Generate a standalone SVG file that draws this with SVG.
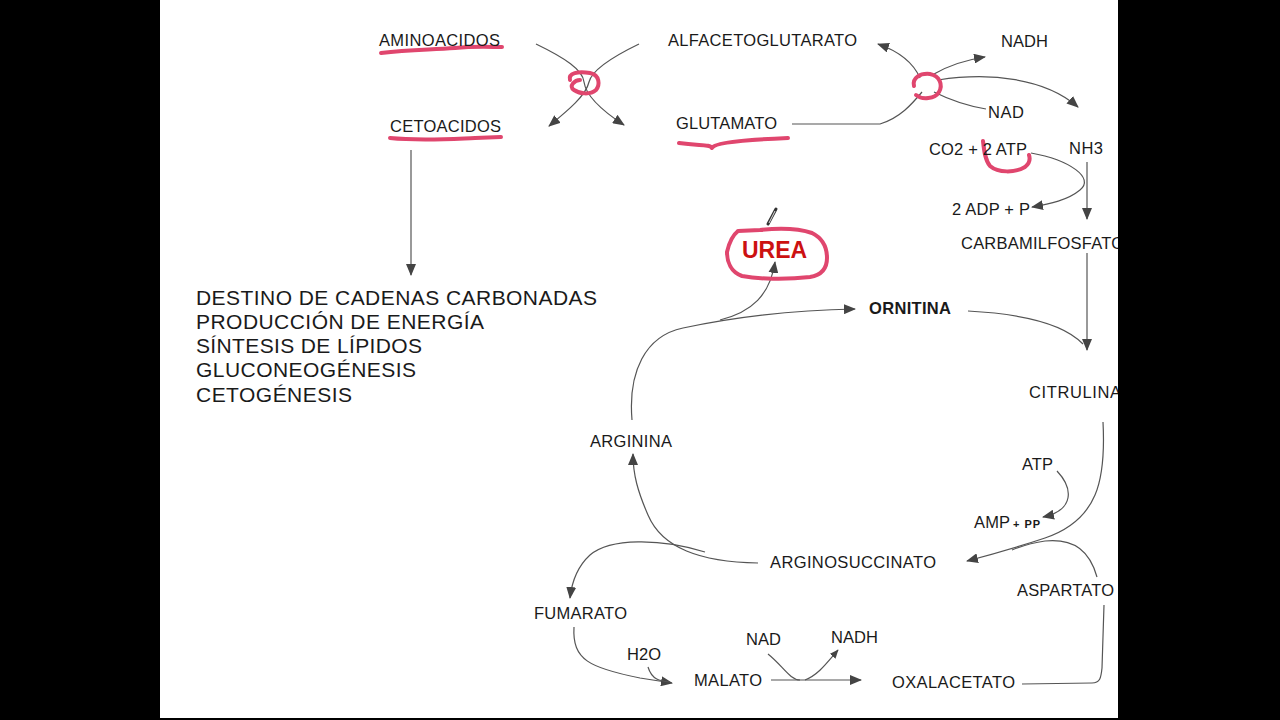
<svg xmlns="http://www.w3.org/2000/svg" width="1280" height="720" viewBox="0 0 1280 720">
<defs>
<marker id="ah" viewBox="0 0 12 10" refX="11" refY="5" markerWidth="12" markerHeight="10" markerUnits="userSpaceOnUse" orient="auto">
<path d="M0,0 L12,5 L0,10 Z" fill="#444"/>
</marker>
<marker id="ahs" viewBox="0 0 12 10" refX="11" refY="5" markerWidth="9" markerHeight="8" markerUnits="userSpaceOnUse" orient="auto">
<path d="M0,0 L12,5 L0,10 Z" fill="#444"/>
</marker>
<style>
text{font-family:"Liberation Sans",Arial,sans-serif;fill:#1a1a1a;font-size:16.5px}
.big{font-size:21px}
.b{font-weight:bold}
.urea{font-weight:bold;fill:#cc1111;font-size:23px}
.c{fill:none;stroke:#555;stroke-width:1.2}
.ca{fill:none;stroke:#555;stroke-width:1.2;marker-end:url(#ah)}
.cs{fill:none;stroke:#555;stroke-width:1.2;marker-end:url(#ahs)}
.pk{fill:none;stroke:#e0466e;stroke-width:4;stroke-linecap:round;stroke-linejoin:round}
</style>
</defs>
<rect x="0" y="0" width="1280" height="720" fill="#000"/>
<rect x="160" y="0" width="958" height="718" fill="#fff"/>

<g id="connectors">
<path class="ca" d="M536,44 C565,58 583,70 584,82 C586,96 604,112 624,125"/>
<path class="ca" d="M639,44 C610,58 592,70 589,82 C586,96 566,112 549,126"/>
<path class="ca" d="M411,150 L411,275"/>
<path class="c" d="M792,124 L880,124 C900,118 912,104 922,92"/>
<path class="ca" d="M920,78 C913,62 898,51 878,44"/>
<path class="ca" d="M934,74 C948,66 965,60 985,57"/>
<path class="c" d="M934,92 C950,100 968,106 986,109"/>
<path class="ca" d="M938,80 C990,72 1045,78 1078,107"/>
<path class="ca" d="M1031,153 C1070,160 1095,178 1080,190 C1068,200 1050,204 1032,207"/>
<path class="ca" d="M1087,162 L1087,219"/>
<path class="ca" d="M1087,253 L1087,350"/>
<path class="c" d="M968,311 C1025,314 1065,325 1083,344"/>
<path class="ca" d="M1103,422 C1106,480 1098,520 1045,538 C1015,548 990,555 967,561"/>
<path class="ca" d="M1057,471 C1073,488 1075,510 1043,517"/>
<path class="c" d="M1097,577 C1090,552 1075,538 1045,541 C1030,543 1022,546 1012,550"/>
<path class="ca" d="M758,563 C700,562 662,548 648,515 C638,492 633,475 633,454"/>
<path class="ca" d="M705,552 C660,538 610,538 590,555 C578,566 572,580 570,598"/>
<path class="ca" d="M632,420 C628,372 645,336 683,328 C740,316 800,310 855,309"/>
<path class="ca" d="M720,320 C752,312 770,295 775,262"/>
<path class="ca" d="M574,627 C572,660 590,668 640,678 L672,683"/>
<path class="c" d="M648,667 C652,680 660,681 670,682"/>
<path class="ca" d="M771,680 L861,680"/>
<path class="c" d="M768,654 C783,666 790,680 800,680"/>
<path class="cs" d="M805,680 C818,675 826,664 838,650"/>
<path class="c" d="M1022,684 L1092,683 C1100,683 1101,678 1102,668 L1104,605"/>
</g>

<g id="highlights">
<path class="pk" d="M381,53 C410,49 430,50 455,48 C475,46 490,47 502,47"/>
<path class="pk" d="M390,138 C420,141 450,139 475,138 L501,137"/>
<path class="pk" d="M679,143 C700,146 710,144 712,148 C714,143 740,140 788,138"/>
<path class="pk" d="M570,80 C568,73 578,71 590,73 C600,75 600,85 596,90 C590,95 580,94 574,90 C568,86 575,80 580,80"/>
<path class="pk" d="M914,86 C912,78 920,73 930,74 C940,76 943,85 939,92 C935,99 922,100 916,95"/>
<path class="pk" d="M983,141 C984,150 985,160 990,166 C998,173 1015,173 1025,167 C1030,163 1030,158 1029,155"/>
<path class="pk" d="M738,231 L760,230 C780,228 800,229 812,233 C822,238 827,246 827,258 C827,268 822,275 810,277 C785,280 758,279 742,276 C731,272 727,262 727,252 C729,243 733,235 738,231"/>
</g>
<g id="cursor">
<path d="M768,224 L776,209" stroke="#333" stroke-width="3" stroke-linecap="round"/>
<path d="M769,223 L775,211" stroke="#ddd" stroke-width="1"/>
</g>

<g id="n-aminoacidos"><text x="379" y="46" textLength="121">AMINOACIDOS</text></g>
<g id="n-cetoacidos"><text x="390" y="132" textLength="111">CETOACIDOS</text></g>
<g id="n-alfacetoglutarato"><text x="668" y="46" textLength="189">ALFACETOGLUTARATO</text></g>
<g id="n-glutamato"><text x="676" y="129" textLength="101">GLUTAMATO</text></g>
<g id="n-nadh1"><text x="1001" y="47" textLength="47">NADH</text></g>
<g id="n-nad1"><text x="988" y="118" textLength="36">NAD</text></g>
<g id="n-co2atp"><text x="929" y="155" textLength="98">CO2 + 2 ATP</text></g>
<g id="n-nh3"><text x="1069" y="154" textLength="34">NH3</text></g>
<g id="n-adp"><text x="952" y="215" textLength="78">2 ADP + P</text></g>
<g id="n-carbamilfosfato"><text x="961" y="249" textLength="163">CARBAMILFOSFATO</text></g>
<g id="n-urea"><text class="urea" x="742" y="258">UREA</text></g>
<g id="n-ornitina"><text class="b" x="869" y="314" textLength="82">ORNITINA</text></g>
<g id="n-citrulina"><text x="1029" y="398" textLength="92">CITRULINA</text></g>
<g id="n-destino">
<text class="big" x="196" y="305" textLength="401">DESTINO DE CADENAS CARBONADAS</text>
<text class="big" x="196" y="329" textLength="288">PRODUCCIÓN DE ENERGÍA</text>
<text class="big" x="196" y="353" textLength="226">SÍNTESIS DE LÍPIDOS</text>
<text class="big" x="196" y="377" textLength="220">GLUCONEOGÉNESIS</text>
<text class="big" x="196" y="402" textLength="156">CETOGÉNESIS</text>
</g>
<g id="n-arginina"><text x="590" y="447" textLength="82">ARGININA</text></g>
<g id="n-atp"><text x="1022" y="470" textLength="31">ATP</text></g>
<g id="n-amp"><text x="974" y="528" textLength="36">AMP</text><text class="b" x="1013" y="528" style="font-size:11px" textLength="27">+ PP</text></g>
<g id="n-arginosuccinato"><text x="770" y="568" textLength="166">ARGINOSUCCINATO</text></g>
<g id="n-aspartato"><text x="1017" y="596" textLength="97">ASPARTATO</text></g>
<g id="n-fumarato"><text x="534" y="619" textLength="93">FUMARATO</text></g>
<g id="n-h2o"><text x="627" y="660" textLength="34">H2O</text></g>
<g id="n-nad2"><text x="746" y="645" textLength="35">NAD</text></g>
<g id="n-nadh2"><text x="831" y="643" textLength="47">NADH</text></g>
<g id="n-malato"><text x="694" y="686" textLength="68">MALATO</text></g>
<g id="n-oxalacetato"><text x="892" y="688" textLength="123">OXALACETATO</text></g>

<rect x="1118" y="0" width="162" height="720" fill="#000"/>
<rect x="160" y="718" width="958" height="2" fill="#000"/>
</svg>
